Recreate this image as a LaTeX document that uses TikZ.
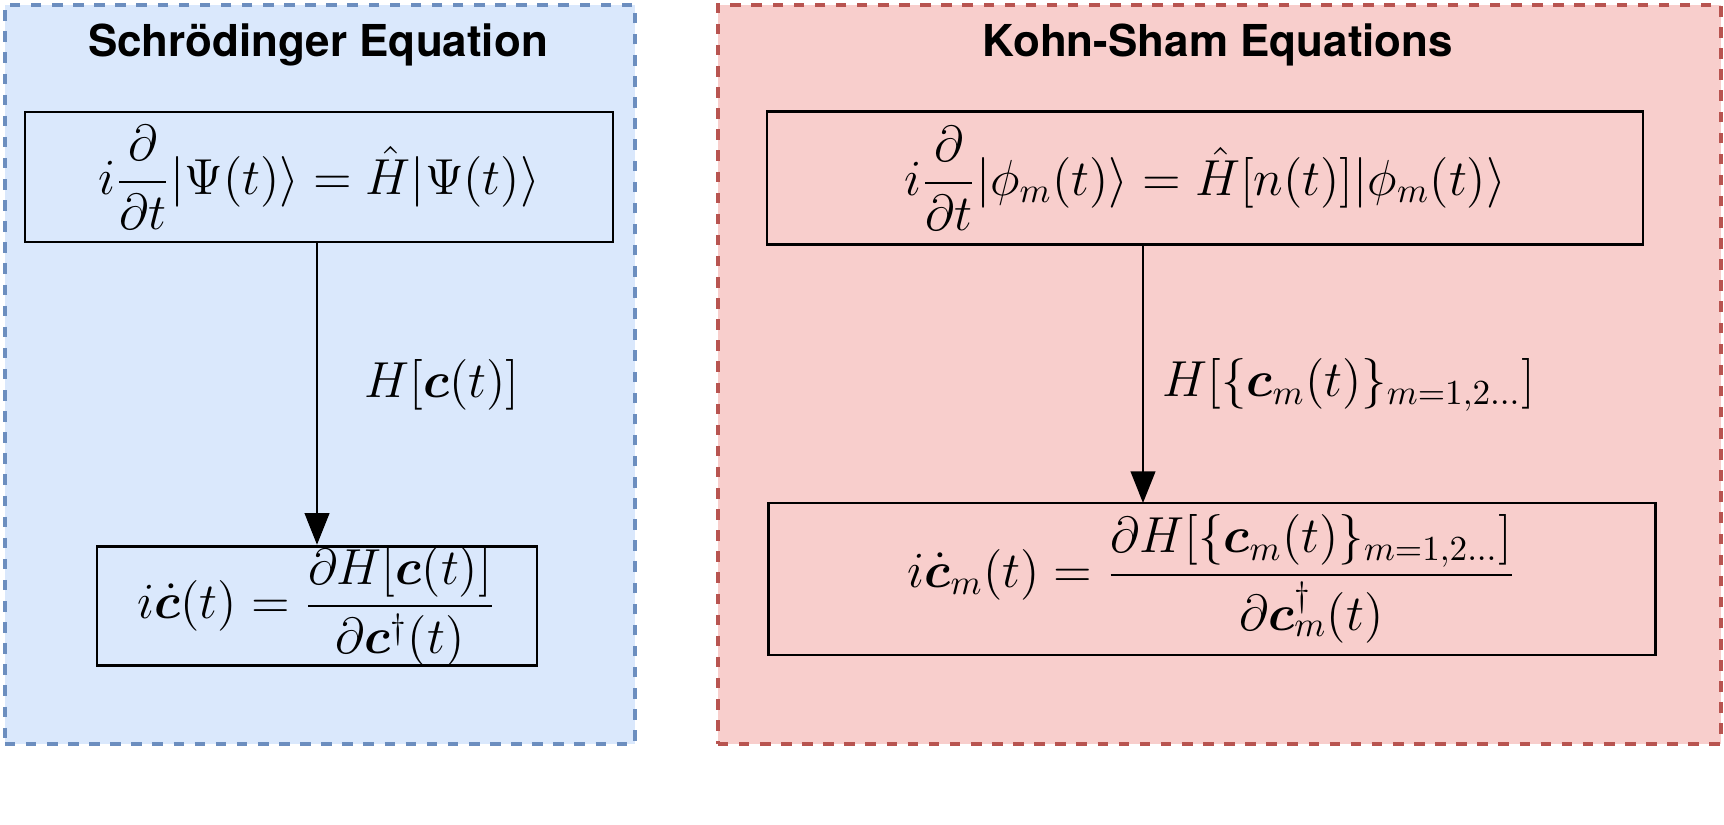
\documentclass[tikz,border=0pt]{standalone}
\usepackage{amsmath,bm}
\usepackage{fontspec}
\setsansfont{TeX Gyre Heros}
\usetikzlibrary{arrows.meta}
\definecolor{bfill}{HTML}{DAE8FC}\definecolor{bline}{HTML}{6C8EBF}
\definecolor{rfill}{HTML}{F8CECC}\definecolor{rline}{HTML}{B85450}
\begin{document}
\begin{tikzpicture}[x=0.01cm,y=-0.01cm,
  panel/.style={draw, dashed, line width=1pt, minimum height=739*0.01cm, anchor=north west, inner sep=0pt},
  eqbox/.style={draw, line width=0.8pt, inner sep=0pt, font=\fontsize{14}{17}\selectfont},
  title/.style={font=\sffamily\bfseries\fontsize{12.5}{15}\selectfont},
  lab/.style={font=\fontsize{14}{17}\selectfont, anchor=west},
  arr/.style={-{Triangle[length=9pt,width=7pt]}, line width=0.6pt}]
\useasboundingbox (0,0) rectangle (1724,824);
\node[panel, draw=bline, fill=bfill, minimum width=630*0.01cm] (pl) at (3,3) {};
\node[panel, draw=rline, fill=rfill, minimum width=1003*0.01cm] (pr) at (716,3) {};
\node[title] (tl) at (318,45) {Schrödinger Equation};
\node[title] (tr) at (1218,45) {Kohn-Sham Equations};
\node[eqbox, minimum width=588*0.01cm, minimum height=130*0.01cm] (l1) at (319,177)
  {$\displaystyle i\frac{\partial}{\partial t}|\Psi(t)\rangle=\hat H|\Psi(t)\rangle$};
\node[eqbox, minimum width=440*0.01cm, minimum height=92*0.01cm] (l2) at (317,606)
  {$\displaystyle i\dot{\bm c}(t)=\frac{\partial H[\bm c(t)]}{\partial \bm c^\dagger(t)}$};
\node[eqbox, minimum width=876*0.01cm, minimum height=133*0.01cm] (r1) at (1205,178)
  {$\displaystyle i\frac{\partial}{\partial t}|\phi_m(t)\rangle=\hat H[n(t)]|\phi_m(t)\rangle$};
\node[eqbox, minimum width=887*0.01cm, minimum height=152*0.01cm] (r2) at (1212,579)
  {$\displaystyle i\dot{\bm c}_m(t)=\frac{\partial H[\{\bm c_m(t)\}_{m=1,2\ldots}]}{\partial \bm c_m^\dagger(t)}$};
\draw[arr] (l1.south -| l2.north) -- (l2.north);
\coordinate (ra) at (1143,503);
\draw[arr] (r1.south -| ra) -- (ra);
\node[lab] (hl) at (352,385) {$H[\bm c(t)]$};
\node[lab] (hr) at (1150,385) {$H[\{\bm c_m(t)\}_{m=1,2\ldots}]$};
\end{tikzpicture}
\end{document}
